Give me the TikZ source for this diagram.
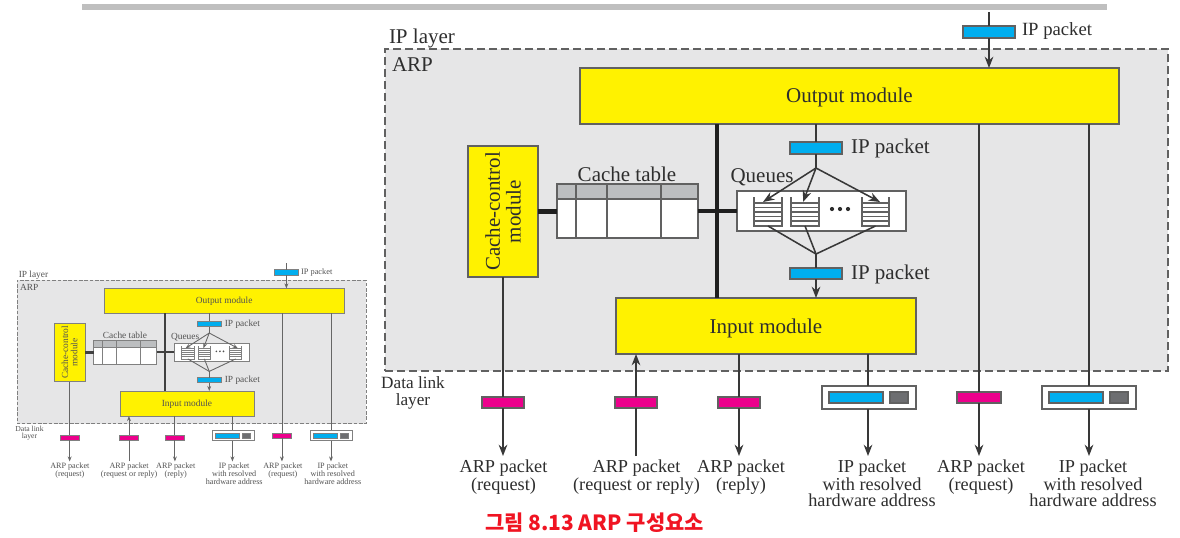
\documentclass[tikz,border=0pt]{standalone}
\usepackage{fontspec}
\setmainfont{Liberation Serif}
\newfontfamily\cjk{Noto Sans CJK KR}
\usetikzlibrary{arrows.meta}
\definecolor{modyellow}{HTML}{FFF200}
\definecolor{pktblue}{HTML}{00AEEF}
\definecolor{pktmag}{HTML}{EC008C}
\definecolor{pktgray}{HTML}{6D6E71}
\definecolor{hdrgray}{HTML}{BCBEC0}
\definecolor{arpbg}{HTML}{E6E6E7}
\definecolor{titlered}{HTML}{F01422}
\tikzset{
  x=0.75pt,y=-0.75pt,
  every node/.style={inner sep=0pt,outer sep=0pt},
  module/.style={draw=edgec,fill=modyellow,line width=\lwa,text=txtc,font=\fontsize{15.75}{15.5}\selectfont,align=center},
  blue pkt/.style={draw=edgec,fill=pktblue,line width=\lwa},
  mag pkt/.style={draw=edgec,fill=pktmag,line width=\lwa},
  gray pkt/.style={draw=edgec,fill=pktgray,line width=\lwa},
  white box/.style={draw=edgec,fill=white,line width=\lwa},
  big label/.style={text=txtc,font=\fontsize{15.75}{15.5}\selectfont,align=center},
  small label/.style={text=txtc,font=\fontsize{13.7}{12}\selectfont,align=center},
  conn/.style={draw=linec,line width=\lwb},
  arr/.style={conn,-{Stealth[length=\tipl pt,width=\tipw pt]}},
  thick conn/.style={draw=busc,line width=\lwc},
  thin line/.style={draw=edgec,line width=\lwa},
}
\newcommand\pxbox[7][]{%
  \pgfmathsetmacro\cxx{(#4+#6)/2}\pgfmathsetmacro\cyy{(#5+#7)/2}%
  \node[#3,minimum width={(#6-#4)*0.75pt},minimum height={(#7-#5)*0.75pt}] (#2) at (\cxx,\cyy) {#1};}
\newcommand\queueshape[3]{%
  \draw[thin line] (#2,197) -- (#2,226) -- (#3,226) -- (#3,197);
  \draw[thin line] (#2,203) -- (#3,203) (#2,207.5) -- (#3,207.5) (#2,212) -- (#3,212) (#2,216.5) -- (#3,216.5) (#2,221) -- (#3,221);
  \pxbox{#1}{inner sep=0pt}{#2}{197}{#3}{226}}
% #1 prefix, #2 shift x, #3 shift y, #4 scale
\newcommand\arpdiagram[4]{%
\begin{scope}[shift={(#2,#3)},scale=#4,transform shape]
  \pgfmathsetmacro\lwa{0.9*0.75*#4+0.2}\edef\lwa{\lwa pt}
  \pgfmathsetmacro\lwb{1.2*0.75*#4+0.25}\edef\lwb{\lwb pt}
  \pgfmathsetmacro\lwc{4.8*0.75*#4}\edef\lwc{\lwc pt}
  \pgfmathsetmacro\tipl{8.5*#4}\pgfmathsetmacro\tipw{6.5*#4}
  \pgfmathsetmacro\dashon{6*#4}\pgfmathsetmacro\dashoff{3*#4}
  % ARP region
  \pxbox{#1arp}{draw=edgec,fill=arpbg,line width=\lwa,dash pattern=on \dashon pt off \dashoff pt}{385}{49}{1168}{371}
  \node[big label,anchor=west] (#1iplayer) at (389,38) {IP layer};
  \node[big label,anchor=west] (#1arplbl) at (392,65) {ARP};
  \node[text=txtc,font=\fontsize{12.9}{12.9}\selectfont,align=center] (#1dll) at (413,392.5) {Data link\\layer};
  % modules
  \pxbox[{\raisebox{-0.8pt}[\height][\depth]{Output module}}]{#1out}{module}{580}{68}{1119}{124}
  \pxbox[{\raisebox{-1.5pt}[\height][\depth]{Input module}}]{#1in}{module}{616}{298}{916}{354}
  \pxbox{#1cc}{module}{468}{146}{538}{277}
  \node[module,draw=none,fill=none,rotate=90] (#1cctext) at (#1cc) {Cache-control\\module};
  % IP packets
  \pxbox{#1p1}{blue pkt}{963}{26}{1015}{38}
  \node[text=txtc,font=\fontsize{14}{14}\selectfont,anchor=west] (#1p1l) at (1022,31.5) {IP packet};
  \pxbox{#1p2}{blue pkt}{790}{142}{842}{154}
  \node[big label,anchor=west] (#1p2l) at (851,148.5) {IP packet};
  \pxbox{#1p3}{blue pkt}{790}{268}{842}{279}
  \node[big label,anchor=west] (#1p3l) at (851,274.5) {IP packet};
  \coordinate (#1top) at (989,12);
  \draw[conn] (#1top) -- (#1p1.north);
  \draw[arr] (#1p1.south) -- (#1out.north -| #1p1.south);
  % cache table
  \pxbox{#1tbl}{white box}{557}{184}{698}{238}
  \fill[hdrgray] (557,184) rectangle (698,199);
  \draw[thin line] (557,184) rectangle (698,238) (557,199) -- (698,199)
    (576,184) -- (576,238) (607,184) -- (607,238) (661,184) -- (661,238);
  \node[big label] (#1tbll) at (627,174) {Cache table};
  % queues
  \pxbox{#1qb}{white box}{737}{191}{906}{231}
  \queueshape{#1q1}{754}{782}
  \queueshape{#1q2}{791}{819}
  \queueshape{#1q3}{862}{889}
  \fill[txtc] (832,209) circle (2.1) (840,209) circle (2.1) (848,209) circle (2.1);
  \node[big label] (#1ql) at (762,177) {Queues};
  \coordinate (#1fan) at (816,168);
  \coordinate (#1join) at (816,254);
  \coordinate (#1a1) at (763,202);
  \coordinate (#1a2) at (803,202);
  \coordinate (#1a3) at (880,202);
  \draw[conn] (#1out.south -| #1p2.north) -- (#1p2.north);
  \draw[conn] (#1p2.south) -- (#1fan);
  \draw[arr] (#1fan) -- (#1a1);
  \draw[arr] (#1fan) -- (#1a2);
  \draw[arr] (#1fan) -- (#1a3);
  \draw[conn] (#1q1.south) -- (#1join);
  \draw[conn] (#1q2.south) -- (#1join);
  \draw[conn] (#1q3.south) -- (#1join);
  \draw[conn] (#1join) -- (#1p3.north);
  \draw[arr] (#1p3.south) -- (#1in.north -| #1p3.south);
  % bus
  \coordinate (#1bus) at (717,211);
  \draw[thick conn] (#1out.south -| #1bus) -- (#1in.north -| #1bus);
  \draw[thick conn] (#1cc.east) -- (#1tbl.west |- #1cc.east);
  \draw[thick conn] (#1tbl.east) -- (#1qb.west);
  % lower packets
  \pxbox{#1m1}{mag pkt}{482}{397}{524}{408}
  \pxbox{#1m2}{mag pkt}{615}{397}{657}{408}
  \pxbox{#1m3}{mag pkt}{718}{397}{760}{408}
  \pxbox{#1m4}{mag pkt}{957}{392}{1001}{403}
  \pxbox{#1f1}{white box}{822}{386}{916}{409}
  \pxbox{#1b1}{blue pkt}{829}{392}{883}{403}
  \pxbox{#1g1}{gray pkt}{890}{392}{908}{403}
  \pxbox{#1f2}{white box}{1042}{386}{1136}{409}
  \pxbox{#1b2}{blue pkt}{1049}{392}{1103}{403}
  \pxbox{#1g2}{gray pkt}{1110}{392}{1128}{403}
  % lower labels
  \node[small label,anchor=north] (#1t1) at (503.5,460) {ARP packet\\(request)};
  \node[small label,anchor=north] (#1t2) at (636.5,460) {ARP packet\\(request or reply)};
  \node[small label,anchor=north] (#1t3) at (741,460) {ARP packet\\(reply)};
  \node[small label,anchor=north] (#1t4) at (872,460) {IP packet\\with resolved\\hardware address};
  \node[small label,anchor=north] (#1t5) at (981,460) {ARP packet\\(request)};
  \node[small label,anchor=north] (#1t6) at (1093,460) {IP packet\\with resolved\\hardware address};
  \coordinate (#1e) at (0,456);
  % lower connectors
  \draw[conn] (#1cc.south -| #1m1.north) -- (#1m1.north);
  \draw[arr] (#1m1.south) -- (#1m1.south |- #1e);
  \draw[conn] (#1m2.south |- #1e) -- (#1m2.south);
  \draw[arr] (#1m2.north) -- (#1in.south -| #1m2.north);
  \draw[conn] (#1in.south -| #1m3.north) -- (#1m3.north);
  \draw[arr] (#1m3.south) -- (#1m3.south |- #1e);
  \coordinate (#1x4) at (868,0);
  \draw[conn] (#1in.south -| #1x4) -- (#1f1.north -| #1x4);
  \draw[arr] (#1f1.south -| #1x4) -- (#1e -| #1x4);
  \draw[conn] (#1out.south -| #1m4.north) -- (#1m4.north);
  \draw[arr] (#1m4.south) -- (#1m4.south |- #1e);
  \coordinate (#1x6) at (1089,0);
  \draw[conn] (#1out.south -| #1x6) -- (#1f2.north -| #1x6);
  \draw[arr] (#1f2.south -| #1x6) -- (#1e -| #1x6);
\end{scope}}
\begin{document}
\begin{tikzpicture}
  \useasboundingbox (0,0) rectangle (1180,537);
  \fill[white] (0,0) rectangle (1180,537);
  \fill[black!25] (82,4) rectangle (1107,10);
  \colorlet{edgec}{black!62}\colorlet{linec}{black!78}\colorlet{busc}{black!88}\colorlet{txtc}{black!82}
  \arpdiagram{L}{0}{0}{1}
  \colorlet{edgec}{black!50}\colorlet{linec}{black!60}\colorlet{busc}{black!75}\colorlet{txtc}{black!68}
  \arpdiagram{S}{-154.7}{258.1}{0.446}
  \node[text=titlered,font=\cjk\bfseries\fontsize{15.7}{15.7}\selectfont] (title) at (594.5,523) {그림 8.13 ARP 구성요소};
\end{tikzpicture}
\end{document}
